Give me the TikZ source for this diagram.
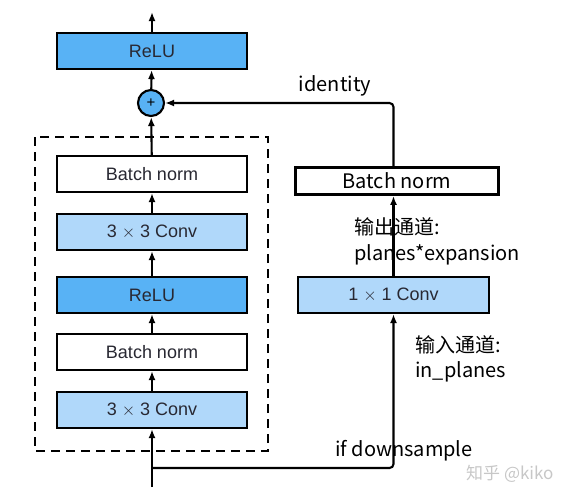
\documentclass[tikz,border=0pt]{standalone}
\usepackage{fontspec}
\setmainfont{Liberation Sans}
\newfontfamily\cjk{Noto Sans CJK SC}
\usetikzlibrary{arrows.meta}
\definecolor{reluc}{RGB}{88,178,245}
\definecolor{convc}{RGB}{176,216,250}
\definecolor{txtc}{RGB}{40,40,50}
\tikzset{
  blk/.style={draw=black, line width=2.1pt, minimum width=190pt, minimum height=36pt, inner sep=0pt, font=\fontsize{18}{21}\selectfont, text=txtc},
  relublk/.style={blk, fill=reluc},
  convblk/.style={blk, fill=convc},
  bnblk/.style={blk, fill=white},
  arr/.style={line width=2.1pt, -{Latex[length=9pt,width=7pt]}},
  lbl/.style={font=\cjk\fontsize{20}{23}\selectfont, inner sep=0pt},
}
\begin{document}
\begin{tikzpicture}[x=1pt,y=-1pt]
\useasboundingbox (0,0) rectangle (569,496);
% left column
\node[relublk] (relu2) at (152,51) {ReLU};
\node[draw=black, line width=2.1pt, circle, fill=reluc, minimum size=26pt, inner sep=0pt, font=\fontsize{15}{15}\selectfont] (plus) at (151,103) {+};
\node[bnblk] (bn2) at (152,174) {Batch norm};
\node[convblk] (conv2) at (152,232) {3 $\times$ 3 Conv};
\node[relublk] (relu1) at (152,295) {ReLU};
\node[bnblk] (bn1) at (152,352) {Batch norm};
\node[convblk] (conv1) at (152,410) {3 $\times$ 3 Conv};
\draw[line width=2.1pt, dash pattern=on 9pt off 6pt] (35,137) rectangle (268,451);
\coordinate (in) at (152,487);
\coordinate (top) at (152,12);
\coordinate (branch) at (152,468);
% right column
\node[convblk, minimum width=191pt] (c11) at (393.5,295) {1 $\times$ 1 Conv};
\node[draw=black, line width=2.8pt, fill=white, minimum width=203pt, minimum height=27pt, inner sep=0pt, font=\cjk\fontsize{20}{23}\selectfont] (bnr) at (397,181) {Batch norm};
% connectors
\draw[arr] (in) -- (conv1);
\draw[arr] (conv1) -- (bn1);
\draw[arr] (bn1) -- (relu1);
\draw[arr] (relu1) -- (conv2);
\draw[arr] (conv2) -- (bn2);
\draw[arr] (bn2) -- (plus);
\draw[arr] (plus) -- (relu2);
\draw[arr] (relu2) -- (top);
\draw[arr, rounded corners=4pt] (branch) -| (c11.south);
\draw[arr] (c11.north) -- (c11.north |- bnr.south);
\draw[arr, rounded corners=4pt] (c11.north |- bnr.north) |- (plus.east);
% labels
\node[lbl] (lid) at (335,86) {identity};
\node[lbl, anchor=west] (lout1) at (354,227) {输出通道:};
\node[lbl, anchor=west] (lout2) at (354,255) {planes*expansion};
\node[lbl, anchor=west] (lin1) at (415,345) {输入通道:};
\node[lbl, anchor=west] (lin2) at (415,372) {in\_planes};
\node[lbl, anchor=west] (lds) at (335,451) {if downsample};
\node[lbl, anchor=west, text=black!22, font=\cjk\fontsize{17}{20}\selectfont] (wm) at (466,474) {知乎 @kiko};
\end{tikzpicture}
\end{document}
